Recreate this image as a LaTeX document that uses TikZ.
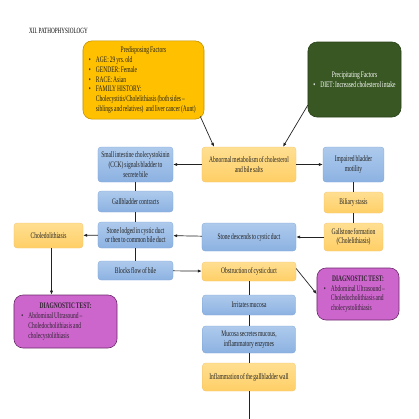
\documentclass[tikz,border=0pt]{standalone}
\usepackage{fontspec}
\setmainfont[FakeStretch=0.65,WordSpace=0.7]{Liberation Serif}
\usetikzlibrary{arrows.meta}
\definecolor{gold}{HTML}{FFC000}
\definecolor{goldline}{HTML}{C29100}
\definecolor{leaf}{HTML}{385723}
\definecolor{leafline}{HTML}{2A4219}
\definecolor{peachtop}{HTML}{FFDF92}
\definecolor{peachbot}{HTML}{FFCF66}
\definecolor{peachline}{HTML}{F0C270}
\definecolor{skytop}{HTML}{AECAEC}
\definecolor{skybot}{HTML}{8CB2E2}
\definecolor{skyline}{HTML}{7FA5D6}
\definecolor{orchid}{HTML}{CC66CC}
\definecolor{orchidline}{HTML}{6B2A6B}
\definecolor{ink}{HTML}{222222}
\newcommand{\bul}{\makebox[7bp][l]{\textbullet}}
\newcommand{\ind}{\hspace*{7bp}}
\frenchspacing

\begin{document}
\begin{tikzpicture}[x=1bp,y=-1bp,
    font=\fontsize{8.5}{9.8}\selectfont,
    box/.style={rounded corners=3bp, align=center, inner sep=2bp, text=ink},
    bluebox/.style={box, top color=skytop, bottom color=skybot, draw=skyline, line width=0.3bp},
    peachbox/.style={box, top color=peachtop, bottom color=peachbot, draw=peachline, line width=0.3bp},
    bigbox/.style={rounded corners=9bp, inner sep=5bp, line width=0.6bp},
    testbox/.style={bigbox, fill=orchid, draw=orchidline, text=ink!80!orchidline, align=left},
    link/.style={draw=ink, line width=0.7bp},
    arr/.style={link, -{Latex[length=4bp,width=3.2bp]}}]
    \useasboundingbox (0,0) rectangle (419,419);

    % heading
    \node[anchor=west, font=\fontsize{8}{8}\selectfont, inner sep=0pt] (head) at (29,31) {XII. PATHOPHYSIOLOGY};

    % factors
    \node[bigbox, fill=gold, draw=goldline, text=ink, inner sep=6bp, minimum width=121bp, minimum height=76bp, align=left] (pred) at (143.5,80)
        {\makebox[109bp][c]{Predisposing Factors}\\
         \bul AGE: 29 yrs. old\\
         \bul GENDER: Female\\
         \bul RACE: Asian\\
         \bul FAMILY HISTORY:\\
         \ind Cholecystitis/Cholelithiasis (both sides --\\
         \ind siblings and relatives)\, and liver cancer (Aunt)};
    \node[bigbox, fill=leaf, draw=leafline, text=white, minimum width=93bp, minimum height=75bp, align=center] (prec) at (354.5,79.5)
        {Precipitating Factors\\ \bul DIET: Increased cholesterol intake};

    % middle column
    \node[peachbox, minimum width=94bp, minimum height=35bp] (abn) at (249,164.5) {Abnormal metabolism of cholesterol\\and bile salts};
    \node[bluebox, minimum width=94bp, minimum height=28bp] (desc) at (249,237) {Stone descends to cystic duct};
    \node[peachbox, minimum width=94bp, minimum height=19bp] (obs) at (249,271.5) {Obstruction of cystic duct};
    \node[bluebox, minimum width=93bp, minimum height=20bp] (irr) at (249,305) {Irritates mucosa};
    \node[bluebox, minimum width=93bp, minimum height=27bp] (muc) at (249,339.5) {Mucosa secretes mucous,\\inflammatory enzymes};
    \node[peachbox, minimum width=93bp, minimum height=28bp] (infl) at (249,377) {Inflammation of the gallbladder wall};
    \coordinate (bot) at (249,419);

    % left column
    \node[bluebox, minimum width=75bp, minimum height=35bp] (cck) at (135.5,164.5) {Small intestine cholecystokinin\\(CCK) signals bladder to\\secrete bile};
    \node[bluebox, minimum width=75bp, minimum height=21bp] (gbc) at (135.5,201.5) {Gallbladder contracts};
    \node[bluebox, minimum width=75bp, minimum height=26bp] (lodg) at (135.5,235) {Stone lodged in cystic duct\\or then to common bile duct};
    \node[bluebox, minimum width=75bp, minimum height=19bp] (blk) at (135.5,270.5) {Blocks flow of bile};
    \node[peachbox, minimum width=69bp, minimum height=25bp] (chol) at (48.5,235.5) {Choledolithiasis};
    \node[testbox, minimum width=103bp, minimum height=53bp] (diagL) at (65.5,321.5)
        {\makebox[88bp][c]{\bfseries DIAGNOSTIC TEST:}\\
         \bul Abdominal Ultrasound --\\
         \ind Choledocholithiasis and\\
         \ind cholecystolithiasis};

    % right column
    \node[bluebox, minimum width=61bp, minimum height=35bp] (imp) at (353.5,164.5) {Impaired bladder\\motility};
    \node[peachbox, minimum width=59bp, minimum height=21bp] (bst) at (353.5,202.5) {Biliary stasis};
    \node[peachbox, minimum width=59bp, minimum height=28bp] (gsf) at (353.5,237) {Gallstone formation\\(Cholelithiasis)};
    \node[testbox, minimum width=82bp, minimum height=52bp] (diagR) at (358,294)
        {\makebox[68bp][c]{\bfseries DIAGNOSTIC TEST:}\\
         \bul Abdominal Ultrasound --\\
         \ind Choledocholithiasis and\\
         \ind cholecystolithiasis};

    % plain links
    \foreach \a/\b in {cck/gbc,gbc/lodg,lodg/blk,imp/bst,bst/gsf,obs/irr,irr/muc,muc/infl}
        \draw[link] (\a) -- (\b);
    \draw[link] (infl) -- (bot);

    % arrows
    \draw[arr] ([xshift=-4bp,yshift=3bp]pred.south east) -- ([xshift=-35bp]abn.north);
    \draw[arr] ([yshift=12bp]prec.south west) -- ([xshift=34bp]abn.north);
    \draw[arr] (abn) -- (imp);
    \draw[arr] (abn) -- (cck);
    \draw[arr] (gsf) -- (desc);
    \draw[arr] (desc) -- (lodg);
    \draw[arr] (lodg) -- (chol);
    \draw[arr] (blk) -- (obs);
    \draw[arr] ([yshift=3bp]obs.east) -- (diagR.west);
    \draw[arr] ([xshift=3bp]chol.south) -- ([xshift=3bp]chol.south |- diagL.north);
\end{tikzpicture}
\end{document}
